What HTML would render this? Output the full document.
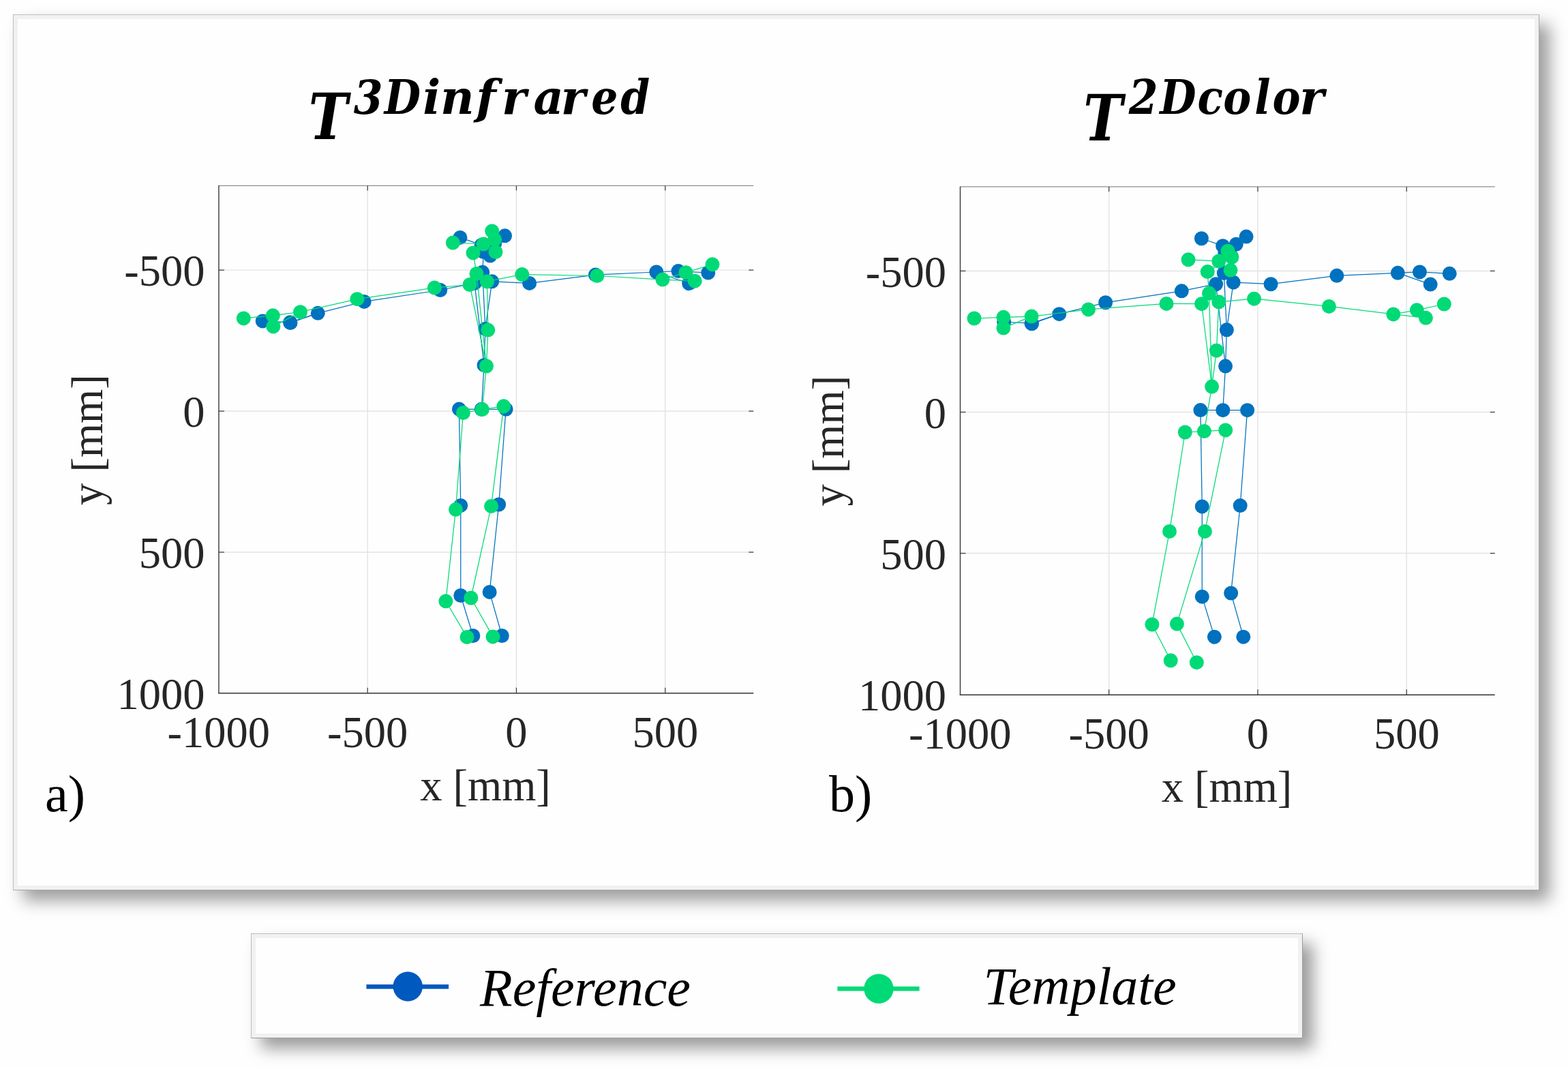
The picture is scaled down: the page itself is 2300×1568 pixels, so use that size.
<!DOCTYPE html>
<html lang="en"><head><meta charset="utf-8"><title>Reference vs Template skeletons</title>
<style>
html,body{margin:0;padding:0;background:#fefefe;}
body{width:2300px;height:1568px;position:relative;overflow:hidden;}
.frame{position:absolute;box-sizing:border-box;border:1px solid #bdbdbd;background:#f1f1f1;padding:6px;
  box-shadow:15px 15px 24px 0 rgba(0,0,0,0.37);}
.frame>.in{width:100%;height:100%;background:#fefefe;}
#f1{left:19px;top:21px;width:2239px;height:1285px;border-right-color:#a9a9a9;border-bottom-color:#a9a9a9;box-shadow:15px 15px 23px 0 rgba(0,0,0,0.385);}
#f2{left:368px;top:1369px;width:1543px;height:154px;border-right-color:#9c9c9c;border-bottom-color:#9c9c9c;box-shadow:14.5px 14.5px 22px 0 rgba(0,0,0,0.39);}
svg{position:absolute;left:0;top:0;}
.g{stroke:#e3e3e3;stroke-width:1.4;}
.at{stroke:#8e8e8e;stroke-width:1.3;}
.al{stroke:#3e3e3e;stroke-width:1.45;}
.ab{stroke:#333;stroke-width:1.45;}
.tk{stroke:#3a3a3a;stroke-width:1.2;}
.sb line{stroke:#0071be;stroke-width:1.25;}
.sb circle{fill:#0071be;}
.sg line{stroke:#00da76;stroke-width:1.25;}
.sg circle{fill:#00da76;}
.tl{font-family:"Liberation Serif", "Times New Roman", serif;font-size:64.5px;fill:#262626;}
.lab{font-family:"Liberation Serif", "Times New Roman", serif;font-size:64.5px;fill:#262626;}
.pl{font-family:"Liberation Serif", "Times New Roman", serif;font-size:76px;fill:#000;}
.ttl{font-family:"DejaVu Serif",serif;font-weight:bold;font-style:italic;fill:#000;}
.leg{font-family:"Liberation Serif", "Times New Roman", serif;font-style:italic;font-size:78px;fill:#000;}
</style></head>
<body>
<div class="frame" id="f1"><div class="in"></div></div>
<div class="frame" id="f2"><div class="in"></div></div>
<svg width="2300" height="1568" viewBox="0 0 2300 1568">
<defs><clipPath id="ca"><rect x="320.95" y="272.45" width="784.35" height="744.2"/></clipPath><clipPath id="cb"><rect x="1408.5" y="273.9" width="784.3" height="745.4"/></clipPath></defs>
<!-- titles -->
<g class="ttl">
<text transform="translate(452.68 204.0) scale(0.92 1)" font-size="93.4" style="font-stretch:condensed">T</text>
<text y="167.0" font-size="68.3"><tspan x="518.65" style="font-stretch:condensed">3</tspan><tspan x="563.74" style="font-stretch:condensed">D</tspan><tspan x="620.14">i</tspan><tspan x="645.92">n</tspan><tspan x="698.17">f</tspan><tspan x="735.97">r</tspan><tspan x="782.62">a</tspan><tspan x="822.87">r</tspan><tspan x="867.34" style="font-stretch:condensed">e</tspan><tspan x="910.21" style="font-stretch:condensed">d</tspan></text>
<text transform="translate(1589.23 205.7) scale(0.92 1)" font-size="93.4" style="font-stretch:condensed">T</text>
<text y="167.4" font-size="68.3"><tspan x="1655.70" style="font-stretch:condensed">2</tspan><tspan x="1701.14" style="font-stretch:condensed">D</tspan><tspan x="1756.42" style="font-stretch:condensed">c</tspan><tspan x="1794.26" style="font-stretch:condensed">o</tspan><tspan x="1840.24" style="font-stretch:condensed">l</tspan><tspan x="1866.41" style="font-stretch:condensed">o</tspan><tspan x="1906.27">r</tspan></text>
</g>
<!-- plot a -->
<line x1="539.15" y1="272.45" x2="539.15" y2="1016.65" class="g"/>
<line x1="757.45" y1="272.45" x2="757.45" y2="1016.65" class="g"/>
<line x1="975.75" y1="272.45" x2="975.75" y2="1016.65" class="g"/>
<line x1="320.95" y1="396.15" x2="1105.3" y2="396.15" class="g"/>
<line x1="320.95" y1="603.05" x2="1105.3" y2="603.05" class="g"/>
<line x1="320.95" y1="809.95" x2="1105.3" y2="809.95" class="g"/>
<g clip-path="url(#ca)">
<g class="sb">
<line x1="385.2" y1="470.9" x2="425.5" y2="472.8"/>
<line x1="425.5" y1="472.8" x2="466.25" y2="459.35"/>
<line x1="426" y1="473.5" x2="466.25" y2="459.35"/>
<line x1="466.25" y1="459.35" x2="534.15" y2="442.45"/>
<line x1="534.15" y1="442.45" x2="645.75" y2="425.5"/>
<line x1="645.75" y1="425.5" x2="696.1" y2="415.4"/>
<line x1="1038.75" y1="400" x2="994.95" y2="397.6"/>
<line x1="994.95" y1="397.6" x2="962.8" y2="399"/>
<line x1="1010.7" y1="415.75" x2="962.8" y2="399"/>
<line x1="962.8" y1="399" x2="873.4" y2="403.05"/>
<line x1="873.4" y1="403.05" x2="776.6" y2="415.4"/>
<line x1="776.6" y1="415.4" x2="721.7" y2="412.85"/>
<line x1="696.1" y1="415.4" x2="707.8" y2="399.3"/>
<line x1="721.7" y1="412.85" x2="707.8" y2="399.3"/>
<line x1="674.9" y1="348.45" x2="706.15" y2="359.4"/>
<line x1="706.15" y1="359.4" x2="709.3" y2="369.5"/>
<line x1="709.3" y1="369.5" x2="725.75" y2="357"/>
<line x1="725.75" y1="357" x2="740.55" y2="345.85"/>
<line x1="709.3" y1="369.5" x2="718.9" y2="375"/>
<line x1="709.3" y1="369.5" x2="707.8" y2="399.3"/>
<line x1="696.1" y1="415.4" x2="710.05" y2="535.65"/>
<line x1="721.7" y1="412.85" x2="711.85" y2="482.45"/>
<line x1="711.85" y1="482.45" x2="710.05" y2="535.65"/>
<line x1="710.05" y1="535.65" x2="706.3" y2="600.25"/>
<line x1="673.4" y1="600.1" x2="706.3" y2="600.25"/>
<line x1="706.3" y1="600.25" x2="742.1" y2="600.25"/>
<line x1="673.4" y1="600.1" x2="675.75" y2="741.4"/>
<line x1="675.75" y1="741.4" x2="675.75" y2="873.5"/>
<line x1="675.75" y1="873.5" x2="693.85" y2="932.5"/>
<line x1="742.1" y1="600.25" x2="731.7" y2="740"/>
<line x1="731.7" y1="740" x2="718.15" y2="868.4"/>
<line x1="718.15" y1="868.4" x2="736.3" y2="932.5"/>
<line x1="707.8" y1="399.3" x2="711.85" y2="482.45"/>
<circle cx="385.2" cy="470.9" r="10.5"/>
<circle cx="425.5" cy="472.8" r="10.5"/>
<circle cx="426" cy="473.5" r="10.5"/>
<circle cx="466.25" cy="459.35" r="10.5"/>
<circle cx="534.15" cy="442.45" r="10.5"/>
<circle cx="645.75" cy="425.5" r="10.5"/>
<circle cx="696.1" cy="415.4" r="10.5"/>
<circle cx="707.8" cy="399.3" r="10.5"/>
<circle cx="711.85" cy="482.45" r="10.5"/>
<circle cx="710.05" cy="535.65" r="10.5"/>
<circle cx="721.7" cy="412.85" r="10.5"/>
<circle cx="776.6" cy="415.4" r="10.5"/>
<circle cx="873.4" cy="403.05" r="10.5"/>
<circle cx="962.8" cy="399" r="10.5"/>
<circle cx="994.95" cy="397.6" r="10.5"/>
<circle cx="1010.7" cy="415.75" r="10.5"/>
<circle cx="1038.75" cy="400" r="10.5"/>
<circle cx="674.9" cy="348.45" r="10.5"/>
<circle cx="740.55" cy="345.85" r="10.5"/>
<circle cx="706.15" cy="359.4" r="10.5"/>
<circle cx="725.75" cy="357" r="10.5"/>
<circle cx="709.3" cy="369.5" r="10.5"/>
<circle cx="718.9" cy="375" r="10.5"/>
<circle cx="673.4" cy="600.1" r="10.5"/>
<circle cx="706.3" cy="600.25" r="10.5"/>
<circle cx="742.1" cy="600.25" r="10.5"/>
<circle cx="675.75" cy="741.4" r="10.5"/>
<circle cx="731.7" cy="740" r="10.5"/>
<circle cx="675.75" cy="873.5" r="10.5"/>
<circle cx="718.15" cy="868.4" r="10.5"/>
<circle cx="693.85" cy="932.5" r="10.5"/>
<circle cx="736.3" cy="932.5" r="10.5"/>
</g>
<g class="sg">
<line x1="357.3" y1="466.9" x2="400.3" y2="462.8"/>
<line x1="400.3" y1="462.8" x2="440.5" y2="457.7"/>
<line x1="400.8" y1="478.9" x2="440.5" y2="457.7"/>
<line x1="440.5" y1="457.7" x2="523.9" y2="438.7"/>
<line x1="523.9" y1="438.7" x2="637.3" y2="422.1"/>
<line x1="637.3" y1="422.1" x2="689" y2="417.5"/>
<line x1="1045" y1="387.8" x2="1006" y2="399.7"/>
<line x1="1006" y1="399.7" x2="971.9" y2="410.1"/>
<line x1="1019.2" y1="412.2" x2="971.9" y2="410.1"/>
<line x1="971.9" y1="410.1" x2="875.9" y2="404.5"/>
<line x1="875.9" y1="404.5" x2="765.8" y2="402.6"/>
<line x1="765.8" y1="402.6" x2="714.4" y2="412.9"/>
<line x1="689" y1="417.5" x2="699" y2="401.4"/>
<line x1="714.4" y1="412.9" x2="699" y2="401.4"/>
<line x1="664.3" y1="356.1" x2="709.3" y2="358"/>
<line x1="709.3" y1="358" x2="694" y2="370.9"/>
<line x1="694" y1="370.9" x2="725.6" y2="351.3"/>
<line x1="725.6" y1="351.3" x2="721.7" y2="338.9"/>
<line x1="694" y1="370.9" x2="699" y2="401.4"/>
<line x1="689" y1="417.5" x2="713.5" y2="537"/>
<line x1="714.4" y1="412.9" x2="715.8" y2="484.1"/>
<line x1="715.8" y1="484.1" x2="713.5" y2="537"/>
<line x1="713.5" y1="537" x2="707.3" y2="600.6"/>
<line x1="679.4" y1="605.5" x2="707.3" y2="600.6"/>
<line x1="707.3" y1="600.6" x2="738.8" y2="595.8"/>
<line x1="679.4" y1="605.5" x2="668.5" y2="747.3"/>
<line x1="668.5" y1="747.3" x2="653.9" y2="881.8"/>
<line x1="653.9" y1="881.8" x2="685" y2="934.4"/>
<line x1="738.8" y1="595.8" x2="720.6" y2="742.4"/>
<line x1="720.6" y1="742.4" x2="690.8" y2="877"/>
<line x1="690.8" y1="877" x2="723" y2="933.9"/>
<line x1="699" y1="401.4" x2="713.5" y2="537"/>
<circle cx="357.3" cy="466.9" r="10.5"/>
<circle cx="400.3" cy="462.8" r="10.5"/>
<circle cx="400.8" cy="478.9" r="10.5"/>
<circle cx="440.5" cy="457.7" r="10.5"/>
<circle cx="523.9" cy="438.7" r="10.5"/>
<circle cx="637.3" cy="422.1" r="10.5"/>
<circle cx="689" cy="417.5" r="10.5"/>
<circle cx="699" cy="401.4" r="10.5"/>
<circle cx="715.8" cy="484.1" r="10.5"/>
<circle cx="713.5" cy="537" r="10.5"/>
<circle cx="714.4" cy="412.9" r="10.5"/>
<circle cx="765.8" cy="402.6" r="10.5"/>
<circle cx="875.9" cy="404.5" r="10.5"/>
<circle cx="971.9" cy="410.1" r="10.5"/>
<circle cx="1006" cy="399.7" r="10.5"/>
<circle cx="1019.2" cy="412.2" r="10.5"/>
<circle cx="1045" cy="387.8" r="10.5"/>
<circle cx="664.3" cy="356.1" r="10.5"/>
<circle cx="721.7" cy="338.9" r="10.5"/>
<circle cx="709.3" cy="358" r="10.5"/>
<circle cx="725.6" cy="351.3" r="10.5"/>
<circle cx="694" cy="370.9" r="10.5"/>
<circle cx="727" cy="369.5" r="10.5"/>
<circle cx="679.4" cy="605.5" r="10.5"/>
<circle cx="707.3" cy="600.6" r="10.5"/>
<circle cx="738.8" cy="595.8" r="10.5"/>
<circle cx="668.5" cy="747.3" r="10.5"/>
<circle cx="720.6" cy="742.4" r="10.5"/>
<circle cx="653.9" cy="881.8" r="10.5"/>
<circle cx="690.8" cy="877" r="10.5"/>
<circle cx="685" cy="934.4" r="10.5"/>
<circle cx="723" cy="933.9" r="10.5"/>
</g>
</g>
<line x1="320.95" y1="272.45" x2="1105.3" y2="272.45" class="at"/>
<line x1="320.95" y1="271.95" x2="320.95" y2="1017.35" class="al"/>
<line x1="320.25" y1="1016.65" x2="1105.3" y2="1016.65" class="ab"/>
<line x1="539.15" y1="1016.65" x2="539.15" y2="1008.65" class="tk"/>
<line x1="539.15" y1="272.45" x2="539.15" y2="279.45" class="tk"/>
<line x1="757.45" y1="1016.65" x2="757.45" y2="1008.65" class="tk"/>
<line x1="757.45" y1="272.45" x2="757.45" y2="279.45" class="tk"/>
<line x1="975.75" y1="1016.65" x2="975.75" y2="1008.65" class="tk"/>
<line x1="975.75" y1="272.45" x2="975.75" y2="279.45" class="tk"/>
<line x1="320.95" y1="396.15" x2="328.95" y2="396.15" class="tk"/>
<line x1="1105.3" y1="396.15" x2="1098.3" y2="396.15" class="tk"/>
<line x1="320.95" y1="603.05" x2="328.95" y2="603.05" class="tk"/>
<line x1="1105.3" y1="603.05" x2="1098.3" y2="603.05" class="tk"/>
<line x1="320.95" y1="809.95" x2="328.95" y2="809.95" class="tk"/>
<line x1="1105.3" y1="809.95" x2="1098.3" y2="809.95" class="tk"/>
<g class="tl">
<text x="300.5" y="419.45" text-anchor="end">-500</text>
<text x="300.5" y="626.35" text-anchor="end">0</text>
<text x="300.5" y="833.25" text-anchor="end">500</text>
<text x="300.5" y="1040.15" text-anchor="end">1000</text>
<text x="320.85" y="1095.7" text-anchor="middle">-1000</text>
<text x="539.15" y="1095.7" text-anchor="middle">-500</text>
<text x="757.45" y="1095.7" text-anchor="middle">0</text>
<text x="975.75" y="1095.7" text-anchor="middle">500</text>
</g>
<text class="lab" x="712" y="1173.5" text-anchor="middle">x [mm]</text>
<text class="lab" transform="translate(149.5 645.1) rotate(-90)" text-anchor="middle">y [mm]</text>
<text class="pl" x="66" y="1190">a)</text>
<!-- plot b -->
<line x1="1626.65" y1="273.9" x2="1626.65" y2="1019.3" class="g"/>
<line x1="1844.95" y1="273.9" x2="1844.95" y2="1019.3" class="g"/>
<line x1="2063.25" y1="273.9" x2="2063.25" y2="1019.3" class="g"/>
<line x1="1408.5" y1="397.45" x2="2192.8" y2="397.45" class="g"/>
<line x1="1408.5" y1="604.5" x2="2192.8" y2="604.5" class="g"/>
<line x1="1408.5" y1="811.55" x2="2192.8" y2="811.55" class="g"/>
<g clip-path="url(#cb)">
<g class="sb">
<line x1="1472.7" y1="472.25" x2="1513" y2="474.16"/>
<line x1="1513" y1="474.16" x2="1553.75" y2="460.7"/>
<line x1="1513.5" y1="474.86" x2="1553.75" y2="460.7"/>
<line x1="1553.75" y1="460.7" x2="1621.65" y2="443.78"/>
<line x1="1621.65" y1="443.78" x2="1733.25" y2="426.82"/>
<line x1="1733.25" y1="426.82" x2="1783.6" y2="416.71"/>
<line x1="2126.25" y1="401.3" x2="2082.45" y2="398.9"/>
<line x1="2082.45" y1="398.9" x2="2050.3" y2="400.3"/>
<line x1="2098.2" y1="417.06" x2="2050.3" y2="400.3"/>
<line x1="2050.3" y1="400.3" x2="1960.9" y2="404.36"/>
<line x1="1960.9" y1="404.36" x2="1864.1" y2="416.71"/>
<line x1="1864.1" y1="416.71" x2="1809.2" y2="414.16"/>
<line x1="1783.6" y1="416.71" x2="1795.3" y2="400.6"/>
<line x1="1809.2" y1="414.16" x2="1795.3" y2="400.6"/>
<line x1="1762.4" y1="349.72" x2="1793.65" y2="360.67"/>
<line x1="1793.65" y1="360.67" x2="1796.8" y2="370.78"/>
<line x1="1796.8" y1="370.78" x2="1813.25" y2="358.27"/>
<line x1="1813.25" y1="358.27" x2="1828.05" y2="347.11"/>
<line x1="1796.8" y1="370.78" x2="1806.4" y2="376.28"/>
<line x1="1796.8" y1="370.78" x2="1795.3" y2="400.6"/>
<line x1="1783.6" y1="416.71" x2="1797.55" y2="537.05"/>
<line x1="1809.2" y1="414.16" x2="1799.35" y2="483.81"/>
<line x1="1799.35" y1="483.81" x2="1797.55" y2="537.05"/>
<line x1="1797.55" y1="537.05" x2="1793.8" y2="601.7"/>
<line x1="1760.9" y1="601.55" x2="1793.8" y2="601.7"/>
<line x1="1793.8" y1="601.7" x2="1829.6" y2="601.7"/>
<line x1="1760.9" y1="601.55" x2="1763.25" y2="742.95"/>
<line x1="1763.25" y1="742.95" x2="1763.25" y2="875.15"/>
<line x1="1763.25" y1="875.15" x2="1781.35" y2="934.19"/>
<line x1="1829.6" y1="601.7" x2="1819.2" y2="741.55"/>
<line x1="1819.2" y1="741.55" x2="1805.65" y2="870.04"/>
<line x1="1805.65" y1="870.04" x2="1823.8" y2="934.19"/>
<line x1="1795.3" y1="400.6" x2="1799.35" y2="483.81"/>
<circle cx="1472.7" cy="472.25" r="10.5"/>
<circle cx="1513" cy="474.16" r="10.5"/>
<circle cx="1513.5" cy="474.86" r="10.5"/>
<circle cx="1553.75" cy="460.7" r="10.5"/>
<circle cx="1621.65" cy="443.78" r="10.5"/>
<circle cx="1733.25" cy="426.82" r="10.5"/>
<circle cx="1783.6" cy="416.71" r="10.5"/>
<circle cx="1795.3" cy="400.6" r="10.5"/>
<circle cx="1799.35" cy="483.81" r="10.5"/>
<circle cx="1797.55" cy="537.05" r="10.5"/>
<circle cx="1809.2" cy="414.16" r="10.5"/>
<circle cx="1864.1" cy="416.71" r="10.5"/>
<circle cx="1960.9" cy="404.36" r="10.5"/>
<circle cx="2050.3" cy="400.3" r="10.5"/>
<circle cx="2082.45" cy="398.9" r="10.5"/>
<circle cx="2098.2" cy="417.06" r="10.5"/>
<circle cx="2126.25" cy="401.3" r="10.5"/>
<circle cx="1762.4" cy="349.72" r="10.5"/>
<circle cx="1828.05" cy="347.11" r="10.5"/>
<circle cx="1793.65" cy="360.67" r="10.5"/>
<circle cx="1813.25" cy="358.27" r="10.5"/>
<circle cx="1796.8" cy="370.78" r="10.5"/>
<circle cx="1806.4" cy="376.28" r="10.5"/>
<circle cx="1760.9" cy="601.55" r="10.5"/>
<circle cx="1793.8" cy="601.7" r="10.5"/>
<circle cx="1829.6" cy="601.7" r="10.5"/>
<circle cx="1763.25" cy="742.95" r="10.5"/>
<circle cx="1819.2" cy="741.55" r="10.5"/>
<circle cx="1763.25" cy="875.15" r="10.5"/>
<circle cx="1805.65" cy="870.04" r="10.5"/>
<circle cx="1781.35" cy="934.19" r="10.5"/>
<circle cx="1823.8" cy="934.19" r="10.5"/>
</g>
<g class="sg">
<line x1="1429" y1="467" x2="1471.9" y2="465.3"/>
<line x1="1471.9" y1="465.3" x2="1513.1" y2="464.1"/>
<line x1="1471.9" y1="481.1" x2="1513.1" y2="464.1"/>
<line x1="1513.1" y1="464.1" x2="1596.5" y2="453.9"/>
<line x1="1596.5" y1="453.9" x2="1711" y2="445.4"/>
<line x1="1711" y1="445.4" x2="1762.6" y2="445.7"/>
<line x1="2118.3" y1="446" x2="2078.3" y2="454.8"/>
<line x1="2078.3" y1="454.8" x2="2043.8" y2="460.9"/>
<line x1="2091.4" y1="466.3" x2="2043.8" y2="460.9"/>
<line x1="2043.8" y1="460.9" x2="1949.4" y2="449.4"/>
<line x1="1949.4" y1="449.4" x2="1839.5" y2="438.2"/>
<line x1="1839.5" y1="438.2" x2="1787.8" y2="442.8"/>
<line x1="1762.6" y1="445.7" x2="1773.5" y2="430.2"/>
<line x1="1787.8" y1="442.8" x2="1773.5" y2="430.2"/>
<line x1="1743" y1="380.8" x2="1787.8" y2="383.1"/>
<line x1="1787.8" y1="383.1" x2="1771.2" y2="398.6"/>
<line x1="1771.2" y1="398.6" x2="1806.8" y2="377.4"/>
<line x1="1806.8" y1="377.4" x2="1801" y2="368.2"/>
<line x1="1771.2" y1="398.6" x2="1773.5" y2="430.2"/>
<line x1="1762.6" y1="445.7" x2="1777.6" y2="567.1"/>
<line x1="1787.8" y1="442.8" x2="1784.4" y2="514.2"/>
<line x1="1784.4" y1="514.2" x2="1777.6" y2="567.1"/>
<line x1="1777.6" y1="567.1" x2="1766.4" y2="632.6"/>
<line x1="1738.3" y1="634" x2="1766.4" y2="632.6"/>
<line x1="1766.4" y1="632.6" x2="1797.7" y2="630.9"/>
<line x1="1738.3" y1="634" x2="1715.5" y2="779.4"/>
<line x1="1715.5" y1="779.4" x2="1689.9" y2="916"/>
<line x1="1689.9" y1="916" x2="1717.2" y2="968.8"/>
<line x1="1797.7" y1="630.9" x2="1767.4" y2="779.4"/>
<line x1="1767.4" y1="779.4" x2="1726.4" y2="915.1"/>
<line x1="1726.4" y1="915.1" x2="1755.3" y2="971.7"/>
<line x1="1773.5" y1="430.2" x2="1777.6" y2="567.1"/>
<circle cx="1429" cy="467" r="10.5"/>
<circle cx="1471.9" cy="465.3" r="10.5"/>
<circle cx="1471.9" cy="481.1" r="10.5"/>
<circle cx="1513.1" cy="464.1" r="10.5"/>
<circle cx="1596.5" cy="453.9" r="10.5"/>
<circle cx="1711" cy="445.4" r="10.5"/>
<circle cx="1762.6" cy="445.7" r="10.5"/>
<circle cx="1773.5" cy="430.2" r="10.5"/>
<circle cx="1784.4" cy="514.2" r="10.5"/>
<circle cx="1777.6" cy="567.1" r="10.5"/>
<circle cx="1787.8" cy="442.8" r="10.5"/>
<circle cx="1839.5" cy="438.2" r="10.5"/>
<circle cx="1949.4" cy="449.4" r="10.5"/>
<circle cx="2043.8" cy="460.9" r="10.5"/>
<circle cx="2078.3" cy="454.8" r="10.5"/>
<circle cx="2091.4" cy="466.3" r="10.5"/>
<circle cx="2118.3" cy="446" r="10.5"/>
<circle cx="1743" cy="380.8" r="10.5"/>
<circle cx="1801" cy="368.2" r="10.5"/>
<circle cx="1787.8" cy="383.1" r="10.5"/>
<circle cx="1806.8" cy="377.4" r="10.5"/>
<circle cx="1771.2" cy="398.6" r="10.5"/>
<circle cx="1805" cy="396.3" r="10.5"/>
<circle cx="1738.3" cy="634" r="10.5"/>
<circle cx="1766.4" cy="632.6" r="10.5"/>
<circle cx="1797.7" cy="630.9" r="10.5"/>
<circle cx="1715.5" cy="779.4" r="10.5"/>
<circle cx="1767.4" cy="779.4" r="10.5"/>
<circle cx="1689.9" cy="916" r="10.5"/>
<circle cx="1726.4" cy="915.1" r="10.5"/>
<circle cx="1717.2" cy="968.8" r="10.5"/>
<circle cx="1755.3" cy="971.7" r="10.5"/>
</g>
</g>
<line x1="1408.5" y1="273.9" x2="2192.8" y2="273.9" class="at"/>
<line x1="1408.5" y1="273.4" x2="1408.5" y2="1020" class="al"/>
<line x1="1407.8" y1="1019.3" x2="2192.8" y2="1019.3" class="ab"/>
<line x1="1626.65" y1="1019.3" x2="1626.65" y2="1011.3" class="tk"/>
<line x1="1626.65" y1="273.9" x2="1626.65" y2="280.9" class="tk"/>
<line x1="1844.95" y1="1019.3" x2="1844.95" y2="1011.3" class="tk"/>
<line x1="1844.95" y1="273.9" x2="1844.95" y2="280.9" class="tk"/>
<line x1="2063.25" y1="1019.3" x2="2063.25" y2="1011.3" class="tk"/>
<line x1="2063.25" y1="273.9" x2="2063.25" y2="280.9" class="tk"/>
<line x1="1408.5" y1="397.45" x2="1416.5" y2="397.45" class="tk"/>
<line x1="2192.8" y1="397.45" x2="2185.8" y2="397.45" class="tk"/>
<line x1="1408.5" y1="604.5" x2="1416.5" y2="604.5" class="tk"/>
<line x1="2192.8" y1="604.5" x2="2185.8" y2="604.5" class="tk"/>
<line x1="1408.5" y1="811.55" x2="1416.5" y2="811.55" class="tk"/>
<line x1="2192.8" y1="811.55" x2="2185.8" y2="811.55" class="tk"/>
<g class="tl">
<text x="1388.1" y="420.75" text-anchor="end">-500</text>
<text x="1388.1" y="627.8" text-anchor="end">0</text>
<text x="1388.1" y="834.85" text-anchor="end">500</text>
<text x="1388.1" y="1041.9" text-anchor="end">1000</text>
<text x="1408.35" y="1098.4" text-anchor="middle">-1000</text>
<text x="1626.65" y="1098.4" text-anchor="middle">-500</text>
<text x="1844.95" y="1098.4" text-anchor="middle">0</text>
<text x="2063.25" y="1098.4" text-anchor="middle">500</text>
</g>
<text class="lab" x="1799.5" y="1176" text-anchor="middle">x [mm]</text>
<text class="lab" transform="translate(1236.8 646.7) rotate(-90)" text-anchor="middle">y [mm]</text>
<text class="pl" x="1216" y="1190">b)</text>
<!-- legend -->
<line x1="537.4" y1="1447.2" x2="658.1" y2="1447.2" stroke="#0059be" stroke-width="6.5"/>
<circle cx="598.2" cy="1447" r="21.7" fill="#0059be"/>
<text class="leg" x="704" y="1474.8">Reference</text>
<line x1="1228.4" y1="1450.2" x2="1348.6" y2="1450.2" stroke="#00da76" stroke-width="6.5"/>
<circle cx="1289" cy="1450.2" r="21.7" fill="#00da76"/>
<text class="leg" x="1442.5" y="1473">Template</text>
</svg>
</body></html>
